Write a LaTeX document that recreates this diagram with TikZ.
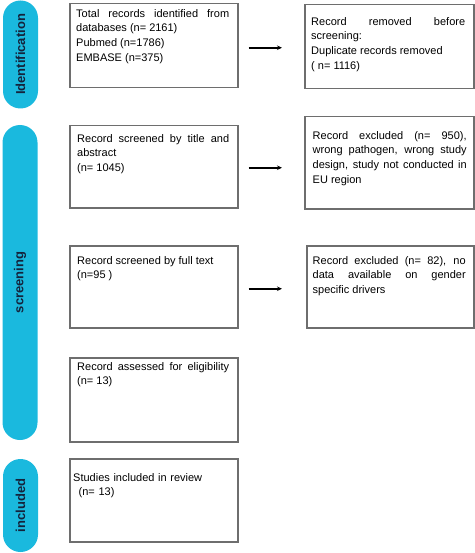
\documentclass[tikz,border=0pt]{standalone}
\usepackage{fontspec}
\setmainfont{Liberation Sans}
\usetikzlibrary{arrows.meta}
\definecolor{pillcyan}{RGB}{26,185,222}
\definecolor{pilltext}{RGB}{20,35,60}
\definecolor{boxgrey}{RGB}{110,110,110}
\hyphenpenalty=10000
\exhyphenpenalty=10000
\tolerance=10000
\begin{document}
\begin{tikzpicture}[x=1pt,y=-1pt,
  pill/.style={fill=pillcyan, rounded corners=17.5pt, inner sep=0pt, rotate=90,
    minimum height=35pt, text=pilltext, font=\fontsize{13}{15}\selectfont\bfseries},
  box/.style={draw=boxgrey, line width=1.5pt, inner sep=0pt, anchor=north west},
  txt/.style={inner sep=0pt, anchor=north west, align=justify,
    font=\fontsize{11}{14.8}\selectfont},
  arr/.style={line width=1.6pt, -{Stealth[length=5pt,width=4.5pt]}}]
\useasboundingbox (0,0) rectangle (474,553);

% phase pills
\node[pill, minimum width=108pt] (p1) at (20.5,54.5) {Identification};
\node[pill, minimum width=315pt] (p2) at (20,282.5) {screening};
\node[pill, minimum width=93pt] (p3) at (20.5,505.5) {included};

% boxes
\node[box, minimum width=168pt, minimum height=84pt] (b1) at (69,3) {};
\node[box, minimum width=169pt, minimum height=84pt] (b1r) at (304,4) {};
\node[box, minimum width=168pt, minimum height=82pt] (b2) at (69,125) {};
\node[box, minimum width=169pt, minimum height=92pt] (b2r) at (304,116) {};
\node[box, minimum width=168pt, minimum height=82pt] (b3) at (69,245) {};
\node[box, minimum width=167pt, minimum height=82pt] (b3r) at (306,245) {};
\node[box, minimum width=168pt, minimum height=84pt] (b4) at (69,357) {};
\node[box, minimum width=168pt, minimum height=83pt] (b5) at (69,458) {};

% texts
\node[txt, text width=153pt] (t1) at ([shift={(7pt,-6pt)}]b1.north west)
  {Total records identified from databases (n= 2161)\\Pubmed (n=1786)\\EMBASE (n=375)};
\node[txt, text width=154pt] (t1r) at ([shift={(7pt,-13pt)}]b1r.north west)
  {Record removed before screening:\\Duplicate records removed\\( n= 1116)};
\node[txt, text width=152pt] (t2) at ([shift={(8pt,-9pt)}]b2.north west)
  {Record screened by title and abstract\\(n= 1045)};
\node[txt, text width=154pt] (t2r) at ([shift={(8.5pt,-15pt)}]b2r.north west)
  {Record excluded (n= 950), wrong pathogen, wrong study design, study not conducted in EU region};
\node[txt, text width=152pt] (t3) at ([shift={(8pt,-11pt)}]b3.north west)
  {Record screened by full text\\(n=95 )};
\node[txt, text width=153pt] (t3r) at ([shift={(6.5pt,-11pt)}]b3r.north west)
  {Record excluded (n= 82), no\linebreak data available on gender\linebreak specific drivers};
\node[txt, text width=152pt] (t4) at ([shift={(8pt,-5pt)}]b4.north west)
  {Record assessed for eligibility (n= 13)};
\node[txt, text width=160pt, align=left] (t5) at ([shift={(4pt,-15pt)}]b5.north west)
  {Studies included in review\\\hphantom{x}(n= 13)};

% arrows
\draw[arr, shorten <=10pt, shorten >=22pt] ([yshift=-2pt]b1.east) -- ([yshift=-2pt]b1.east -| b1r.west);
\draw[arr, shorten <=10pt, shorten >=22pt] ([yshift=-1pt]b2.east) -- ([yshift=-1pt]b2.east -| b2r.west);
\draw[arr, shorten <=10pt, shorten >=24pt] ([yshift=-2pt]b3.east) -- ([yshift=-2pt]b3.east -| b3r.west);
\end{tikzpicture}
\end{document}
